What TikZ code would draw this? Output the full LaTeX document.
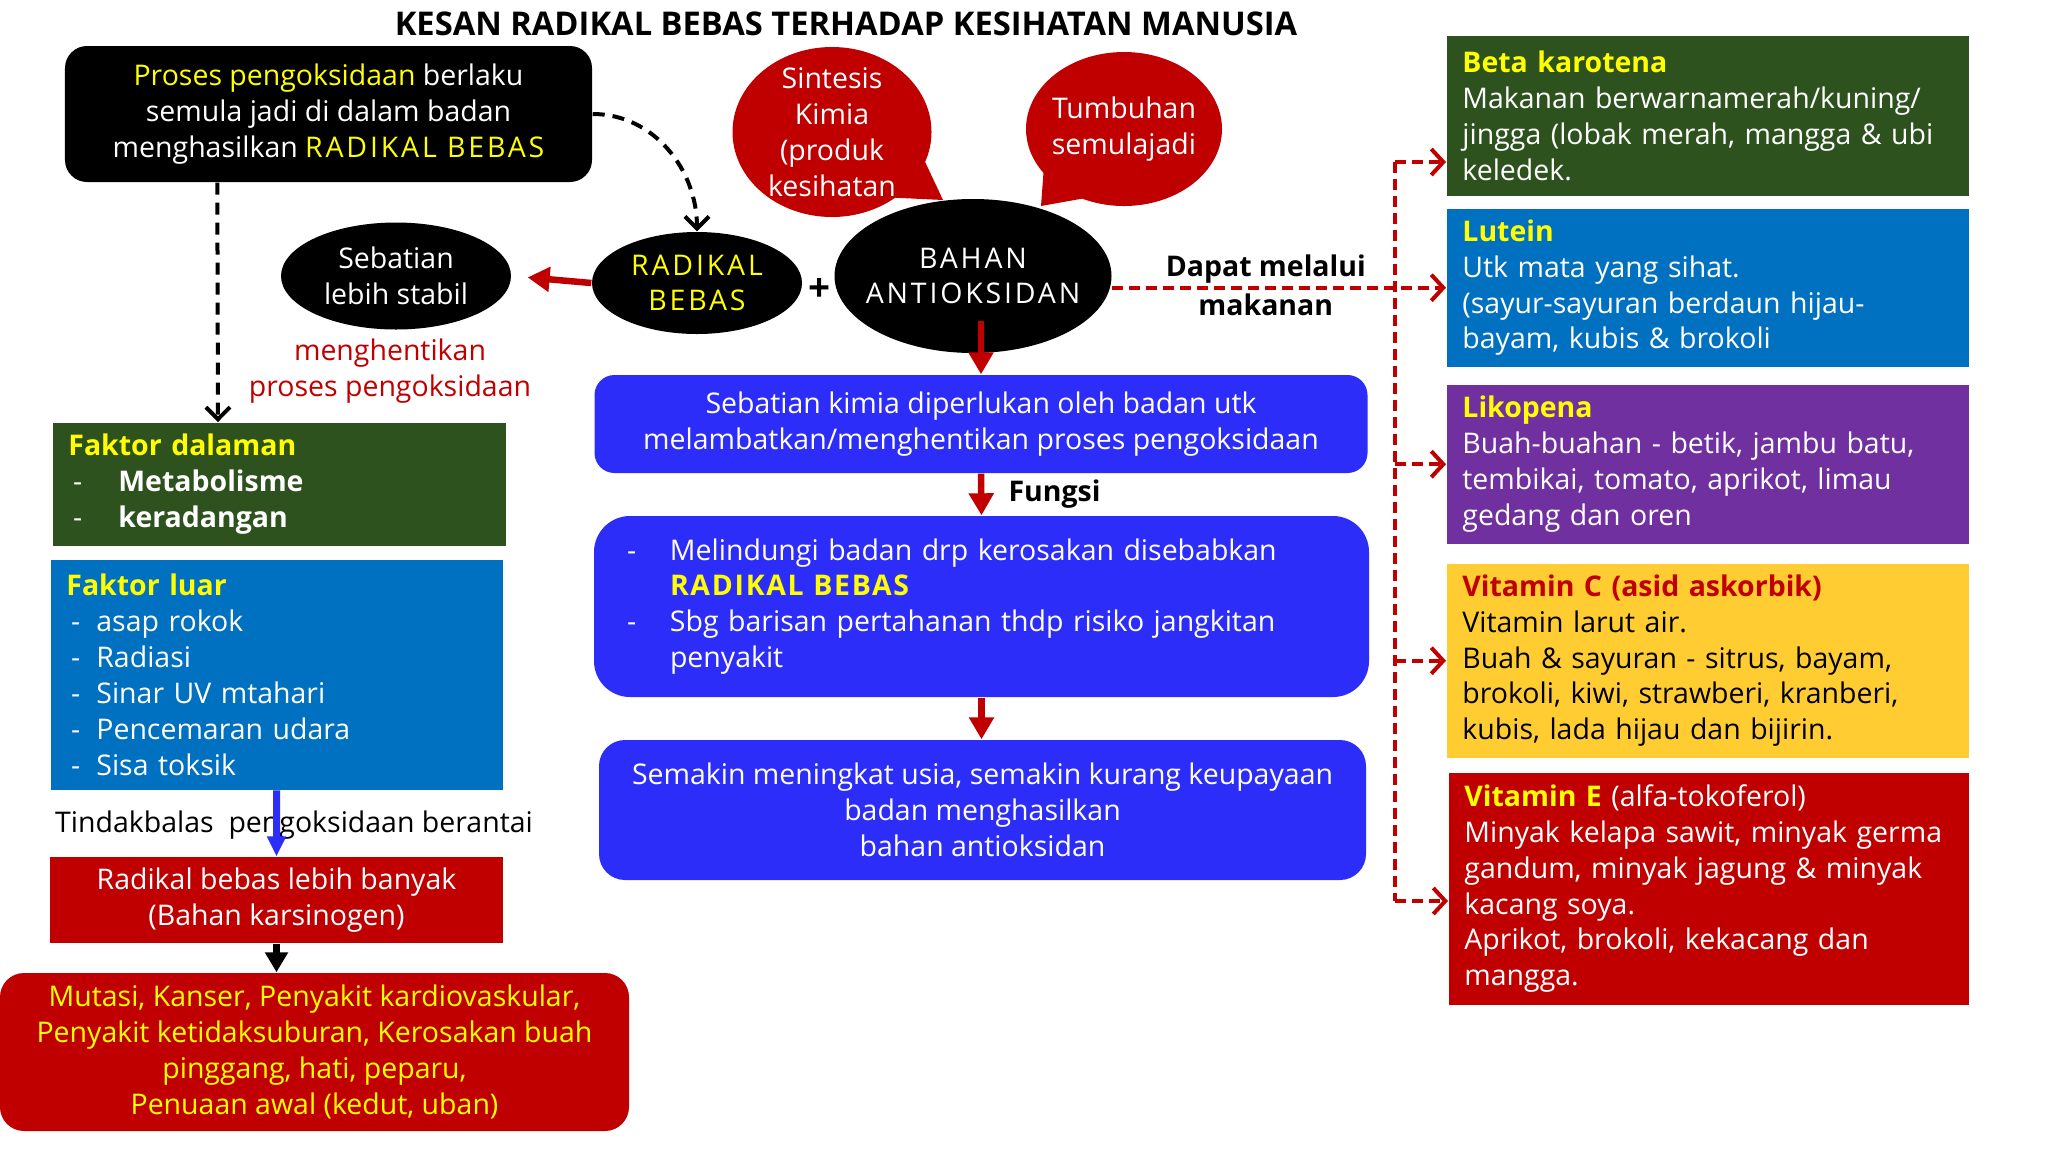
\documentclass[tikz,border=0pt]{standalone}
\usepackage{fontspec}
\setmainfont{Open Sans}
\usepackage{tikz}
\usetikzlibrary{arrows.meta,shapes.geometric,shapes.callouts,positioning,calc}

\definecolor{leaf}{RGB}{45,82,30}
\definecolor{sea}{RGB}{0,112,192}
\definecolor{plum}{RGB}{112,48,160}
\definecolor{mustard}{RGB}{255,205,50}
\definecolor{blood}{RGB}{192,0,0}
\definecolor{royal}{RGB}{45,45,250}
\definecolor{lemon}{RGB}{255,255,0}
\newcommand\yel[1]{\textcolor{lemon}{#1}}
\newcommand\wide{\addfontfeature{LetterSpace=10}}
\newcommand\bodyfont{\fontsize{8.1}{10.2}\selectfont}

\begin{document}
\begin{tikzpicture}[x=1mm, y=-1mm, font=\bodyfont,
  lab/.style={inner sep=0pt, align=center},
  bold/.style={font=\bodyfont\bfseries, text=black},
  blob/.style={ellipse, fill=black, inner sep=0pt},
  bubble/.style={ellipse callout, fill=blood, inner sep=0pt, callout pointer arc=30},
  card/.style={rectangle, rounded corners=2mm, inner sep=0pt, align=center, text=white},
  pane/.style={rectangle, text width=#1, inner xsep=1.57mm, inner ysep=0pt,
    align=left, text=white, anchor=north west},
  redarr/.style={blood, line width=0.65mm, -{Triangle[length=2.2mm, width=2.4mm]}},
  dashred/.style={blood, line width=0.4mm, dash pattern=on 1.1mm off 0.6mm},
  barb/.style={-{Straight Barb[length=1.2mm, width=2.6mm]}},
  dashblk/.style={line width=0.4mm, dash pattern=on 1.2mm off 0.8mm,
    -{Straight Barb[length=1.2mm, width=2.4mm]}}]
  \useasboundingbox (0,0) rectangle (204.8,115.2);

  \node[lab, font=\fontsize{9.3}{11}\selectfont\bfseries] (judul) at (84.6,2.35)
    {KESAN RADIKAL BEBAS TERHADAP KESIHATAN MANUSIA};

  % atas: proses, gelembung dan elips
  \node[card, fill=black, rounded corners=2.2mm, minimum width=52.7mm, minimum height=13.6mm]
    (proses) at (32.85,11.4)
    {\yel{Proses pengoksidaan} berlaku\\semula jadi di dalam badan\\menghasilkan \yel{\wide RADIKAL BEBAS}};
  \node[bubble, minimum width=19.9mm, minimum height=17mm,
    callout absolute pointer={(94.3,20.0)}] (sintesis) at (83.2,13.2) {};
  \node[lab, text=white] (sintesisT) at (sintesis.center) {Sintesis\\Kimia\\(produk\\kesihatan};
  \node[bubble, minimum width=19.6mm, minimum height=15.4mm,
    callout absolute pointer={(104.1,20.6)}] (tumbuhan) at (112.4,12.9) {};
  \node[lab, text=white] (tumbuhanT) at (tumbuhan.center) {Tumbuhan\\semulajadi};

  \node[blob, minimum width=27.7mm, minimum height=15.4mm] (bahan) at (97.3,27.6) {};
  \node[lab, text=white] (bahanT) at (bahan.center) {\wide BAHAN\\\wide ANTIOKSIDAN};
  \node[blob, minimum width=21mm, minimum height=10.2mm] (radikal) at (69.7,28.3) {};
  \node[lab, text=lemon] (radikalT) at (radikal.center) {\wide RADIKAL\\\wide BEBAS};
  \node[blob, minimum width=23mm, minimum height=10.7mm] (stabil) at (39.6,27.6) {};
  \node[lab, text=white] (stabilT) at (stabil.center) {Sebatian\\lebih stabil};
  \node[lab, font=\fontsize{11}{11}\selectfont\bfseries] (tambah) at (82.0,29.0) {+};
  \node[lab, text=blood] (henti) at (39.0,37.1) {menghentikan\\proses pengoksidaan};

  \draw[redarr, shorten >=1.6mm] (radikal.west) -- (stabil.east);
  \draw[dashblk] (proses.east) to[out=0, in=90] (radikal.north);

  % kiri: faktor
  \node[pane=42.16mm, fill=leaf, minimum height=12.3mm] (fdal) at (5.2,42.2)
    {\yel{\bfseries Faktor dalaman}\\
     \makebox[5mm][l]{\,-}\textbf{Metabolisme}\\
     \makebox[5mm][l]{\,-}\textbf{keradangan}};
  \node[pane=42.06mm, fill=sea, minimum height=23mm] (fluar) at (5.0,55.9)
    {\yel{\bfseries Faktor luar}\\
     \makebox[3mm][l]{\,-}asap rokok\\
     \makebox[3mm][l]{\,-}Radiasi\\
     \makebox[3mm][l]{\,-}Sinar UV mtahari\\
     \makebox[3mm][l]{\,-}Pencemaran udara\\
     \makebox[3mm][l]{\,-}Sisa toksik};
  \draw[dashblk] ([xshift=15.3mm]proses.south west) -- ([xshift=16.6mm]fdal.north west);
  \node[lab] (berantai) at (29.4,82.5) {Tindakbalas\ \ pengoksidaan berantai};
  \node[card, rounded corners=0pt, fill=blood, minimum width=45.3mm, minimum height=8.6mm]
    (banyak) at (27.65,90.0) {Radikal bebas lebih banyak\\(Bahan karsinogen)};
  \node[card, fill=blood, rounded corners=2.4mm, text=lemon, minimum width=62.9mm,
    minimum height=15.8mm] (kesan) at (31.45,105.2)
    {Mutasi, Kanser, Penyakit kardiovaskular,\\Penyakit ketidaksuburan, Kerosakan buah\\
     pinggang, hati, peparu,\\Penuaan awal (kedut, uban)};
  \draw[royal, line width=0.7mm, -{Triangle[length=2mm, width=1.8mm]}] (fluar.south) -- (banyak.north);
  \draw[line width=0.7mm, -{Triangle[length=2mm, width=2.2mm]}] (banyak.south) -- (banyak.south |- kesan.north);

  % tengah: fungsi
  \node[card, fill=royal, minimum width=77.3mm, minimum height=9.8mm] (b1) at (98.1,42.4)
    {Sebatian kimia diperlukan oleh badan utk\\melambatkan/menghentikan proses pengoksidaan};
  \node[card, fill=royal, rounded corners=3.6mm, text width=70.9mm, inner xsep=3.3mm,
    minimum height=18.1mm, align=left] (b2) at (98.15,60.65)
    {\makebox[4.3mm][l]{-}Melindungi badan drp kerosakan disebabkan\\
     \hspace*{4.3mm}\yel{\bfseries\addfontfeature{LetterSpace=6}RADIKAL BEBAS}\\
     \makebox[4.3mm][l]{-}Sbg barisan pertahanan thdp risiko jangkitan\\
     \hspace*{4.3mm}penyakit};
  \node[card, fill=royal, rounded corners=2.6mm, minimum width=76.7mm, minimum height=14mm]
    (b3) at (98.25,81.0)
    {Semakin meningkat usia, semakin kurang keupayaan\\badan menghasilkan\\bahan antioksidan};
  \coordinate (bstart) at ([yshift=3.3mm]bahan.south);
  \draw[redarr] (bstart -| b1.north) -- (b1.north);
  \draw[redarr] (b1.south) -- node[right=2.4mm, lab, bold] (fungsi) {Fungsi} (b2.north);
  \draw[redarr] (b2.south) -- (b2.south |- b3.north);

  % kanan: sumber makanan
  \node[pane=49.06mm, fill=leaf, minimum height=16mm] (beta) at (144.6,3.5)
    {\yel{\bfseries Beta karotena}\\Makanan berwarnamerah/kuning/\\
     jingga (lobak merah, mangga \& ubi\\keledek.};
  \node[pane=49.06mm, fill=sea, minimum height=15.8mm] (lutein) at (144.6,20.8)
    {\yel{\bfseries Lutein}\\Utk mata yang sihat.\\(sayur-sayuran berdaun hijau-\\
     bayam, kubis \& brokoli};
  \node[pane=49.06mm, fill=plum, minimum height=15.9mm] (liko) at (144.6,38.4)
    {\yel{\bfseries Likopena}\\Buah-buahan - betik, jambu batu,\\
     tembikai, tomato, aprikot, limau\\gedang dan oren};
  \node[pane=49.06mm, fill=mustard, text=black, minimum height=19.4mm] (vitc) at (144.6,56.3)
    {\textcolor{blood}{\bfseries Vitamin C (asid askorbik)}\\Vitamin larut air.\\
     Buah \& sayuran - sitrus, bayam,\\brokoli, kiwi, strawberi, kranberi,\\
     kubis, lada hijau dan bijirin.};
  \node[pane=48.86mm, fill=blood, minimum height=23.2mm] (vite) at (144.8,77.2)
    {\yel{\bfseries Vitamin E} (alfa-tokoferol)\\Minyak kelapa sawit, minyak germa\\
     gandum, minyak jagung \& minyak\\kacang soya.\\Aprikot, brokoli, kekacang dan\\mangga.};

  \draw[dashred, barb] (bahan.east |- lutein.west) --
    node[pos=0.46, above=0.2mm, lab, bold] (dapat) {Dapat melalui}
    node[pos=0.46, below=0.4mm, lab, bold] (makanan) {makanan} (lutein.west);
  \coordinate (jtop) at (139.5,16.2);
  \coordinate (jbot) at (139.5,90.1);
  \draw[dashred] (jtop) -- (jbot);
  \draw[dashred, barb] (jtop) -- (jtop -| beta.west);
  \draw[dashred, barb] (liko.west -| jtop) -- (liko.west);
  \draw[dashred, barb] (vitc.west -| jtop) -- (vitc.west);
  \draw[dashred, barb] (jbot) -- (jbot -| vite.west);
\end{tikzpicture}
\end{document}
